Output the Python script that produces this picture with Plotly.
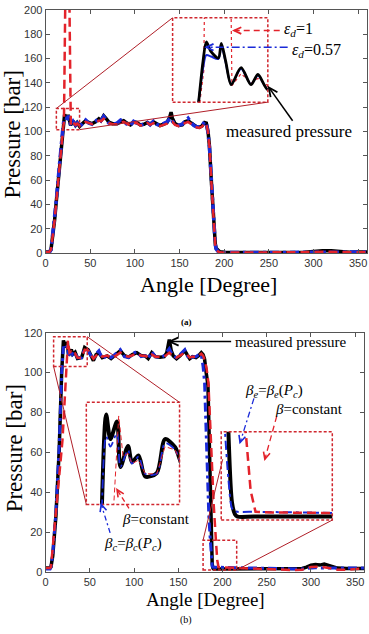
import math
import plotly.graph_objects as go

W, H = 369, 634

# ---------------- data: panel (a) ----------------
angle_a = [0, 4, 6, 8, 10, 12, 14, 16, 18, 19.3,
           20.3, 21.2, 22.5, 24.5, 25.3, 26.5, 28, 30.7, 33.4, 35.3,
           38, 41, 44.8, 48, 52, 56, 59.6, 62, 65, 68,
           70.7, 75, 80, 84, 87.4, 91, 95, 98.5, 102, 106,
           110, 114, 117, 120.7, 124, 128, 132, 136, 139, 140.5,
           142, 145, 149, 153, 156, 159.6, 163, 166, 169, 172,
           175, 178, 180, 181.9, 183.5, 185.6, 187, 188.5, 190, 191,
           193, 195, 200, 220, 250, 280, 290, 300, 310, 320,
           330, 340, 350, 360]
p_a_measured = [1, 1, 3, 14, 27, 43, 60, 78, 94, 103,
                110, 114, 112, 110.7, 113.7, 110, 105.2, 108.7, 105.2, 107.3,
                104.2, 106.5, 109, 107.5, 106.5, 108, 110.5, 109, 113, 110.5,
                107.8, 106.5, 106.5, 108, 109, 107, 105.5, 108, 107.5, 105.5,
                106, 107.5, 106, 108, 106.5, 105, 106, 107.5, 112, 116,
                111, 106.5, 105, 105.5, 108, 109, 107, 105.5, 104, 103.5,
                104.5, 107.5, 107, 100, 88, 59.5, 40, 19, 8, 4,
                2, 1.2, 0.8, 0.6, 0.5, 0.5, 0.8, 1.5, 2, 2,
                1.2, 0.8, 1, 1]
p_a_eps057 = [0.5, 0.5, 3, 15, 28, 44, 61, 79, 95, 103,
              108.5, 111.3, 111, 110.5, 113.2, 109.8, 105.3, 108.5, 105.3, 107.1,
              104.3, 106.5, 109.5, 107, 106, 108.5, 111, 109, 112.5, 109.5,
              107, 106, 107, 109.5, 108.5, 106, 105, 108.5, 107, 105,
              106.5, 107.5, 105.5, 108.5, 106, 105, 106.5, 108, 110.5, 111,
              108.5, 106, 105, 106, 108.5, 111, 107.5, 105, 104, 104,
              105, 108, 107, 99, 87, 58, 38, 18, 7, 3.5,
              1.5, 0.8, 0.5, 0.5, 0.5, 0.5, 0.6, 0.8, 1, 1,
              0.8, 0.6, 0.8, 1]
angle_a_eps1 = [0, 4, 6, 8, 10, 12, 14, 16, 18, 19.5,
                20.5, 24.3, 28.2, 30.7, 33.4, 35.3, 38, 41, 44.8, 48,
                52, 56, 59.6, 62, 65, 68, 70.7, 75, 80, 84,
                87.4, 91, 95, 98.5, 102, 106, 110, 114, 117, 120.7,
                124, 128, 132, 136, 139, 142, 145, 149, 153, 156,
                159.6, 163, 166, 169, 172, 175, 178, 180, 181.9, 183.5,
                185.6, 187, 188.5, 190, 191, 193, 195, 200, 220, 250,
                280, 290, 300, 310, 320, 330, 340, 350, 360]
p_a_eps1 = [1, 1, 3, 14, 27, 43, 60, 77, 93, 102,
            108, 360, 105, 107.5, 105.5, 106.5, 105, 106, 108, 107,
            106, 107, 109, 108.5, 110.5, 109, 107, 106, 106, 107.5,
            108, 106.5, 105, 107, 107, 105, 105.5, 107, 105.5, 107,
            106, 104.5, 105.5, 106.5, 108, 108, 105.5, 104.5, 105, 107,
            108, 106.5, 105, 103.5, 103, 104, 106.5, 106.5, 99.5, 88,
            59, 39, 18, 7, 3.5, 1.5, 0.8, 0.5, 0.5, 0.5,
            0.5, 0.6, 1, 1.2, 1, 0.8, 0.6, 0.8, 1]

# ---------------- data: panel (b) ----------------
angle_b = [0, 5, 6, 8, 11.6, 15.3, 18.1, 20.1, 21.8, 24.5,
           25.9, 29, 30.6, 33.3, 36, 40.7, 44.1, 48.2, 50, 54,
           57, 60.2, 64, 69.6, 74, 78, 84.4, 89, 93.8, 98,
           103.1, 108, 112.5, 116, 120, 124, 129.3, 134, 137, 139.8,
           142, 144.3, 148, 152, 157.3, 160, 162.9, 166, 170, 173,
           176, 178, 179.7, 181.5, 183.5, 184.5, 185.9, 187.2, 188.3, 189.2,
           190, 195, 220, 250, 280, 290, 295, 300, 305, 310,
           315, 320, 325, 330, 340, 350, 360]
p_b_measured = [2, 2, 2.5, 8, 28, 61, 100, 116.2, 112.6, 115.2,
                108.5, 111.6, 109.2, 110.2, 107.1, 107.6, 112.6, 111.4, 109.7, 106,
                109, 110, 107.5, 108.4, 107, 108.5, 111, 108.5, 107.7, 109,
                110, 108.5, 108.4, 107, 110, 108, 107.7, 108, 110, 116.6,
                111, 108.4, 107, 108.5, 111, 109, 107, 108, 107.5, 108.5,
                110, 109, 106.7, 100, 93.6, 75, 45, 16, 4, 2,
                1.6, 1.6, 1.6, 1.5, 1.5, 1.8, 2.5, 3.5, 3.8, 3.5,
                4, 3.2, 2.5, 2, 1.8, 1.8, 1.8]
p_b_beta_pc = [1.5, 1.5, 2.5, 9, 30, 63, 100, 113, 111.5, 113.5,
               108.5, 111, 109, 110, 107.5, 107.5, 112, 111, 109.5, 106.5,
               109.5, 111, 107, 108.5, 107.5, 109, 111.5, 108, 107.5, 109.5,
               110.5, 108, 108.5, 107, 110.5, 108, 107.5, 108.5, 110.5, 112,
               110, 108.5, 107.5, 109, 111.5, 108.5, 106.5, 108, 108, 109,
               109, 103, 95, 68, 42, 28, 18, 8, 3, 2.5,
               2.4, 2.4, 2.2, 1.8, 1.5, 1.5, 1.8, 2, 2.2, 2,
               2, 1.8, 1.8, 1.8, 1.8, 2, 2]
angle_b_const = [0, 5, 6, 8, 12, 16, 19, 21, 23.2, 25.2,
                 27, 29, 30.6, 33.3, 36, 40.7, 44.1, 48.2, 50, 54,
                 57, 60.2, 64, 69.6, 74, 78, 84.4, 89, 93.8, 98,
                 103.1, 108, 112.5, 116, 120, 124, 129.3, 134, 137, 139.8,
                 142, 144.3, 148, 152, 157.3, 160, 162.9, 166, 170, 173,
                 176, 178, 180, 182, 184, 186, 188, 190, 192.5, 194,
                 195.5, 200, 220, 250, 280, 290, 300, 310, 320, 330,
                 340, 350, 360]
p_b_beta_const = [2, 2, 2.5, 12, 32, 52, 66, 82, 103, 116,
                  110, 110.5, 109, 109.5, 107.5, 107.5, 111.5, 111, 109.5, 107,
                  108.5, 109.5, 108, 108.5, 107.5, 108, 110, 108.5, 108, 108.5,
                  109.5, 108.5, 108.5, 107.5, 109, 108, 108, 108, 109, 110,
                  109, 108.5, 107.5, 108.5, 110, 109, 107.5, 108, 108, 108.5,
                  109.5, 108.5, 106, 102, 95, 75, 52, 34, 16, 6,
                  2.4, 2.3, 2.2, 1.5, 1, 1.2, 2.5, 2.8, 2, 1.2,
                  1.2, 1.5, 1.8]

x_ticks = [0, 50, 100, 150, 200, 250, 300, 350]
y_ticks_a = [0, 20, 40, 60, 80, 100, 120, 140, 160, 180, 200]
y_ticks_b = [0, 20, 40, 60, 80, 100, 120]

# ---------------- style / layout constants ----------------
SERIF = "Liberation Serif, Times New Roman, serif"
SANS = "Liberation Sans, Arial, sans-serif"
BLACK = "#000000"
RED = "#e3232b"
BLUE = "#1a2ad8"
BOXRED = "#d0262e"
LINKRED = "#b01f28"
DASH_RED = "9px,5px"
DASH_BLUE = "9px,4px,3px,4px"

# plot boxes in pixels: left, top, right, bottom
PA = (43, 4, 367, 252)
PB = (43, 333, 364, 577)
IA = (171, 12, 267, 98)
IB1 = (84, 404, 178, 508)
IB2 = (220, 434, 332, 524)
RANGE_A = ([0, 360], [0, 200])
RANGE_B = ([0, 360], [0, 120])
ZOOM_A = ([12, 38], [101.6, 119])
ZOOM_B1 = ([9, 47], [103, 118])
ZOOM_B2 = ([178, 216], [1, 16])
INSET_B1 = ([12, 50], [103, 118])
INSET_B2 = ([185, 219], [1, 16])


def dom(box):
    return [box[0] / W, box[2] / W], [1 - box[3] / H, 1 - box[1] / H]


def pp(x, y):
    return x / W, 1 - y / H


def d2px(box, rng, x, y):
    (xa, xb), (ya, yb) = rng
    px = box[0] + (x - xa) / (xb - xa) * (box[2] - box[0])
    py = box[3] - (y - ya) / (yb - ya) * (box[3] - box[1])
    return px, py


fig = go.Figure()


def add(x, y, xa, ya, color, width, dash, shape="linear"):
    fig.add_trace(go.Scatter(x=x, y=y, xaxis=xa, yaxis=ya, mode="lines",
                             line=dict(color=color, width=width, dash=dash,
                                       shape=shape, smoothing=0.8),
                             showlegend=False, hoverinfo="skip"))


# panel (a) main
add(angle_a, p_a_measured, "x", "y", BLACK, 3.5, "solid")
add(angle_a, p_a_eps057, "x", "y", BLUE, 3.5, DASH_BLUE)
add(angle_a_eps1, p_a_eps1, "x", "y", RED, 2.5, DASH_RED)
# panel (a) inset
add(angle_a_eps1, p_a_eps1, "x3", "y3", RED, 1.2, "dot")
add(angle_a, p_a_eps057, "x3", "y3", BLUE, 2, "solid", "spline")
add(angle_a, p_a_measured, "x3", "y3", BLACK, 2.8, "solid", "spline")

# panel (b) main
add(angle_b, p_b_measured, "x2", "y2", BLACK, 3.5, "solid")
add(angle_b, p_b_beta_pc, "x2", "y2", BLUE, 3, DASH_BLUE)
add(angle_b_const, p_b_beta_const, "x2", "y2", RED, 2.5, DASH_RED)
# panel (b) insets
add(angle_b, p_b_measured, "x4", "y4", BLACK, 4, "solid", "spline")
add(angle_b, p_b_beta_pc, "x4", "y4", BLUE, 1.8, DASH_BLUE, "spline")
add(angle_b_const, p_b_beta_const, "x4", "y4", RED, 1, "5px,3px")
add(angle_b, p_b_measured, "x5", "y5", BLACK, 4, "solid", "spline")
add(angle_b, p_b_beta_pc, "x5", "y5", BLUE, 2, DASH_BLUE, "spline")
add(angle_b_const, p_b_beta_const, "x5", "y5", RED, 2.5, DASH_RED)


def main_axis(d, rng, tv, anchor):
    return dict(domain=d, range=rng, tickvals=tv, ticks="inside", ticklen=4,
                tickwidth=1, tickcolor="#555", showline=True, linecolor="#555",
                linewidth=1, mirror="ticks", showgrid=False, zeroline=False,
                tickfont=dict(family=SANS, size=11, color="#333"),
                anchor=anchor, fixedrange=True)


def inset_axis(d, rng, anchor):
    return dict(domain=d, range=rng, visible=False, anchor=anchor, fixedrange=True)


xa, ya = dom(PA)
xb, yb = dom(PB)
xi, yi = dom(IA)
x1, y1 = dom(IB1)
x2, y2 = dom(IB2)
fig.update_layout(
    width=W, height=H, margin=dict(l=0, r=0, t=0, b=0),
    paper_bgcolor="white", plot_bgcolor="rgba(0,0,0,0)",
    xaxis=main_axis(xa, RANGE_A[0], x_ticks, "y"),
    yaxis=main_axis(ya, RANGE_A[1], y_ticks_a, "x"),
    xaxis2=main_axis(xb, RANGE_B[0], x_ticks, "y2"),
    yaxis2=main_axis(yb, RANGE_B[1], y_ticks_b, "x2"),
    xaxis3=inset_axis(xi, ZOOM_A[0], "y3"),
    yaxis3=inset_axis(yi, ZOOM_A[1], "x3"),
    xaxis4=inset_axis(x1, INSET_B1[0], "y4"),
    yaxis4=inset_axis(y1, INSET_B1[1], "x4"),
    xaxis5=inset_axis(x2, INSET_B2[0], "y5"),
    yaxis5=inset_axis(y2, INSET_B2[1], "x5"),
)

box_line = dict(color=BOXRED, width=1.5, dash="3px,2px")
link_line = dict(color=LINKRED, width=1)

# zoom boxes on main plots
for (xr, yr), xref, yref in [(ZOOM_A, "x", "y"), (ZOOM_B1, "x2", "y2"), (ZOOM_B2, "x2", "y2")]:
    fig.add_shape(type="rect", xref=xref, yref=yref, x0=xr[0], x1=xr[1],
                  y0=yr[0], y1=yr[1], line=box_line)
# inset frames
for ax in ["3", "4", "5"]:
    fig.add_shape(type="rect", xref=f"x{ax} domain", yref=f"y{ax} domain",
                  x0=0, x1=1, y0=0, y1=1, line=box_line)


def seg(p0, p1, line):
    a = pp(*p0)
    b = pp(*p1)
    fig.add_shape(type="line", xref="paper", yref="paper", x0=a[0], y0=a[1],
                  x1=b[0], y1=b[1], line=line)


link = lambda p0, p1: seg(p0, p1, link_line)
link(d2px(PA, RANGE_A, ZOOM_A[0][0], ZOOM_A[1][1]), (IA[0], IA[1]))
link(d2px(PA, RANGE_A, ZOOM_A[0][1], ZOOM_A[1][0]), (IA[2], IA[3]))
link(d2px(PB, RANGE_B, ZOOM_B1[0][0], ZOOM_B1[1][0]), (IB1[0], IB1[3]))
link(d2px(PB, RANGE_B, ZOOM_B1[0][1], ZOOM_B1[1][1]), (IB1[2], IB1[1]))
link(d2px(PB, RANGE_B, ZOOM_B2[0][0], ZOOM_B2[1][1]), (IB2[0] + 1.5, 462))
link(d2px(PB, RANGE_B, ZOOM_B2[0][1], ZOOM_B2[1][0]), (IB2[2], IB2[3]))


def arrow(tail, tip, color, dash, width=1.3, head=8.0):
    seg(tail, tip, dict(color=color, width=width, dash=dash))
    dx, dy = tail[0] - tip[0], tail[1] - tip[1]
    L = math.hypot(dx, dy)
    ux, uy = dx / L, dy / L
    pts = []
    for s in (1, -1):
        a = math.radians(25) * s
        wx = tip[0] + head * (ux * math.cos(a) - uy * math.sin(a))
        wy = tip[1] + head * (ux * math.sin(a) + uy * math.cos(a))
        pts.append(pp(wx, wy))
    t = pp(*tip)
    path = f"M{pts[0][0]},{pts[0][1]} L{t[0]},{t[1]} L{pts[1][0]},{pts[1][1]}"
    fig.add_shape(type="path", xref="paper", yref="paper", path=path,
                  line=dict(color=color, width=width + 0.3))


def label(text, x, y, size, xanchor="center", angle=0):
    p = pp(x, y)
    fig.add_annotation(x=p[0], y=p[1], xref="paper", yref="paper", text=text,
                       showarrow=False, xanchor=xanchor, yanchor="middle",
                       textangle=angle, borderpad=0,
                       font=dict(family=SERIF, size=size, color="black"))


# panel (a) annotations
arrow((279, 25), (233, 25), RED, "6px,4px", 1.5)
label("<i>ε</i><sub><i>d</i></sub>=1", 282, 24, 16, "left")
arrow((287, 42), (205, 42), BLUE, "8px,3px,2px,3px", 1.5)
label("<i>ε</i><sub><i>d</i></sub>=0.57", 290, 45, 16, "left")
arrow((292, 117), (268, 83), BLACK, "solid", 1.5, 10)
label("measured pressure", 288, 128, 17)
label("Pressure [bar]", 10, 131, 23, angle=-90)
label("Angle [Degree]", 207, 284, 22)
label("<b>(a)</b>", 185, 322, 9)

# panel (b) annotations
arrow((230, 342), (168, 342), BLACK, "solid", 1.5, 10)
label("measured pressure", 233, 342, 15, "left")
arrow((253, 400), (239, 445), BLUE, "6px,3px,2px,3px", 1.3)
label("<i>β</i><sub><i>e</i></sub>=<i>β</i><sub><i>e</i></sub>(<i>P</i><sub><i>c</i></sub>)", 273, 392, 15)
arrow((276, 418), (264, 462), RED, "6px,4px", 1.3)
label("<i>β</i>=constant", 309, 411, 15)
arrow((127, 512), (115, 493), RED, "5px,3px", 1.3)
label("<i>β</i>=constant", 154, 523, 15)
arrow((108, 537), (99, 508), BLUE, "5px,3px,2px,3px", 1.3)
label("<i>β</i><sub><i>c</i></sub>=<i>β</i><sub><i>c</i></sub>(<i>P</i><sub><i>c</i></sub>)", 131, 548, 15)
label("Pressure [bar]", 12, 451, 23, angle=-90)
label("Angle [Degree]", 204, 605, 19)
label("(b)", 185, 626, 10)

fig.write_html("out.html", config={"displayModeBar": False, "staticPlot": True},
               post_script="document.body.style.margin='0';document.body.style.overflow='hidden';")
